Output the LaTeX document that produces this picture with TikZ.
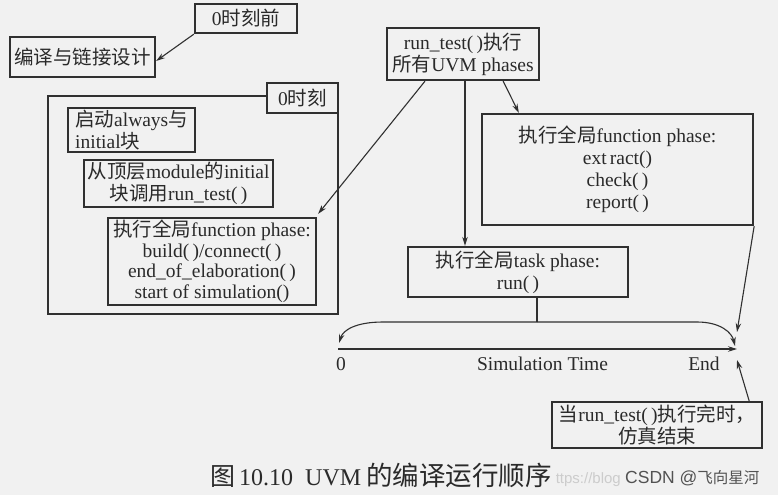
\documentclass[tikz,border=0pt]{standalone}
\usepackage{fontspec}
\setmainfont{Liberation Serif}
\newfontfamily\cjk{Noto Sans CJK SC}
\newfontfamily\wmsans{Liberation Sans}
\usetikzlibrary{arrows.meta}
\newcommand{\zh}[1]{{\cjk #1}}
\definecolor{bg}{RGB}{241,241,241}
\definecolor{ink}{RGB}{42,42,42}
\definecolor{frame}{RGB}{48,48,48}
\begin{document}
\begin{tikzpicture}[x=1pt,y=-1pt,
  box/.style={draw=frame, line width=2.3pt, fill=bg, inner sep=0pt, text=ink,
    font=\fontsize{19.5}{22}\selectfont, align=center},
  arr/.style={draw=frame, line width=1.1pt, -{Stealth[length=9pt,width=5.5pt]}},
  ln/.style={draw=frame, line width=1.1pt},
  lbl/.style={text=ink, font=\fontsize{19.5}{22}\selectfont, inner sep=0pt}]
\useasboundingbox (0,0) rectangle (778,495);
\fill[bg] (0,0) rectangle (778,495);

% boxes
\node[box, minimum width=102pt, minimum height=29pt] (before0) at (246,18.5) {0\zh{时刻前}};
\node[box, minimum width=145pt, minimum height=40pt] (compile) at (82.5,57) {\zh{编译与链接设计}};
\node[box, minimum width=290pt, minimum height=218pt] (outer) at (193,205) {};
\node[box, minimum width=71pt, minimum height=30pt] (t0) at (302.5,98) {0\zh{时刻}};
\node[box, minimum width=127pt, minimum height=44pt, align=left] (start) at (131.5,130)
  {\zh{启动}always\zh{与}\\initial\zh{块}};
\node[box, minimum width=189pt, minimum height=47pt] (call) at (178.5,183.5)
  {\zh{从顶层}module\zh{的}initial\\\zh{块调用}run\_test(\,)};
\node[box, minimum width=208pt, minimum height=87pt, font=\fontsize{19.5}{20.5}\selectfont] (func1) at (212,261.5)
  {\zh{执行全局}function phase:\\build(\,)/connect(\,)\\end\_of\_elaboration(\,)\\start of simulation()};
\node[box, minimum width=152pt, minimum height=52pt] (runtest) at (463,54)
  {run\_test(\,)\zh{执行}\\\zh{所有}UVM phases};
\node[box, minimum width=271pt, minimum height=111pt] (func2) at (617.5,169.5)
  {\zh{执行全局}function phase:\\ext\,ract()\\check(\,)\\report(\,)};
\node[box, minimum width=220pt, minimum height=50pt] (task) at (518,272)
  {\zh{执行全局}task phase:\\run(\,)};
\node[box, minimum width=210pt, minimum height=46pt] (endnote) at (657,425)
  {\zh{当}run\_test(\,)\zh{执行完时，}\\\zh{仿真结束}};

% connectors
\draw[arr] (before0.south west) -- ([yshift=-4pt]compile.east);
\draw[arr] ([xshift=-38pt]runtest.south) -- ([xshift=1pt,yshift=3pt]func1.north east);
\coordinate (v1) at ([xshift=2pt]runtest.south);
\draw[arr] (v1) -- (v1 |- task.north);
\draw[arr] ([xshift=-37pt]runtest.south east) -- ([xshift=38pt]func2.north west);

% timeline
\coordinate (tl0) at (338,349);
\coordinate (tlend) at (737,349);
\draw[arr] (tl0) -- (tlend);
\node[lbl] (zero) at (341,364) {0};
\node[lbl] (simt) at (542.5,364) {Simulation Time};
\node[lbl] (endl) at (704,364) {End};

% brace
\coordinate (tick) at (537,322);
\coordinate (bl) at (339,343);
\coordinate (br) at (735,346);
\draw[ln] (task.south -| tick) -- (tick);
\draw[arr] (tick) -- (383,322) .. controls (356,322) and (343,330) .. (bl);
\draw[arr] (tick) -- (697,322) .. controls (721,322) and (732,333) .. (br);

\coordinate (endtop) at (737,332);
\draw[arr] (func2.south east) -- (endtop);
\coordinate (endbot) at (737,360);
\draw[arr] ([xshift=-14pt]endnote.north east) -- (endbot);

% watermark
\node[anchor=base east, inner sep=0pt, text=black!20, font=\wmsans\fontsize{15}{18}\selectfont] (url) at (621,483) {ttps://blog};
\node[anchor=base west, inner sep=0pt, text=black!68, font=\wmsans\fontsize{17.5}{20}\selectfont] (wm) at (625,483)
  {CSDN @{\cjk\fontsize{15.5}{18}\selectfont 飞向星河}};

% caption
\node[anchor=base west, inner sep=0pt, text=ink, font=\fontsize{25}{28}\selectfont] (cap1) at (210,485) {\zh{图}};
\node[anchor=base west, inner sep=0pt, text=ink, font=\fontsize{24}{28}\selectfont] (cap2) at (239,485) {10.10};
\node[anchor=base west, inner sep=0pt, text=ink, font=\fontsize{24}{28}\selectfont] (cap3) at (305,485) {UVM};
\node[anchor=base west, inner sep=0pt, text=ink, font=\fontsize{26.5}{30}\selectfont] (cap4) at (366,485) {\zh{的编译运行顺序}};
\end{tikzpicture}
\end{document}
